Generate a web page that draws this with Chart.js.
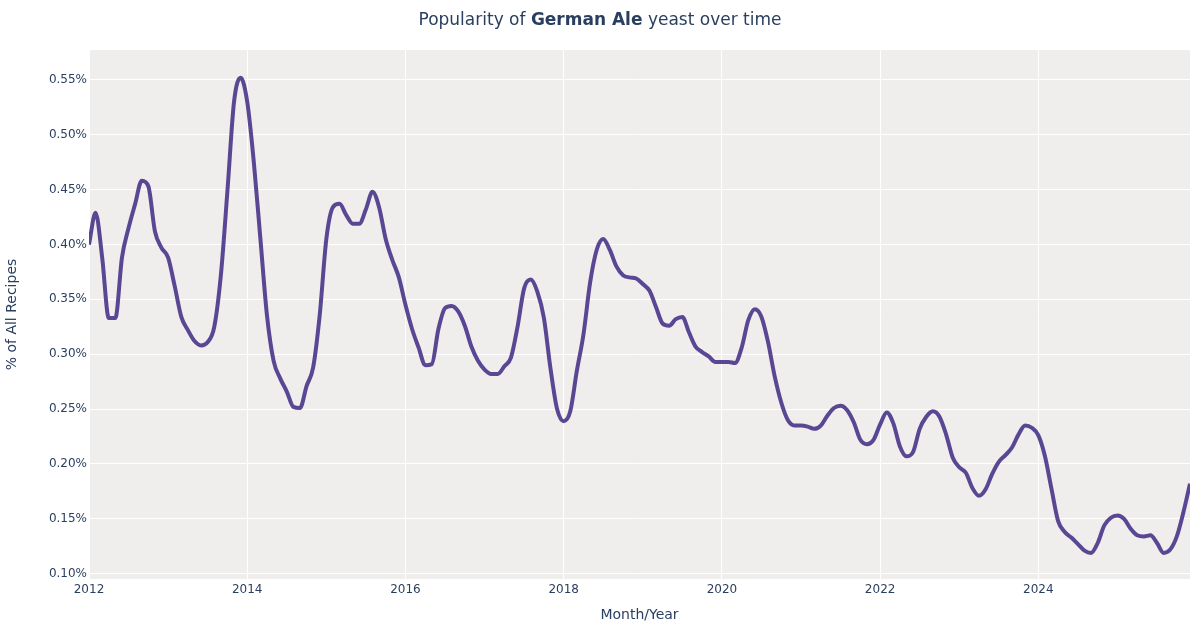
<!DOCTYPE html>
<html>
<head>
<meta charset="utf-8">
<script src="https://cdn.jsdelivr.net/npm/chart.js@4.4.1/dist/chart.umd.min.js"></script>
<style>
  html, body { margin: 0; padding: 0; background: #fff; }
  #wrap { position: relative; width: 1200px; height: 630px; }
  #title {
    position: absolute; left: 0; top: 9px; width: 1200px; text-align: center;
    font-family: 'DejaVu Sans', sans-serif; font-size: 17px; color: #2a3f5f;
  }
  canvas { position: absolute; left: 0; top: 0; }
</style>
</head>
<body>
<div id="wrap">
  <canvas id="yeastChart" width="1200" height="630"></canvas>
  <div id="title">Popularity of <b>German Ale</b> yeast over time</div>
</div>
<script>
// % of all recipes, one value per month (Jan..Dec)
const startYear = 2012
const y2012 = [0.400, 0.429, 0.388, 0.333, 0.333, 0.388, 0.415, 0.437, 0.458, 0.453, 0.412, 0.397]
const y2013 = [0.388, 0.362, 0.334, 0.322, 0.312, 0.308, 0.311, 0.325, 0.372, 0.449, 0.530, 0.552]
const y2014 = [0.530, 0.475, 0.405, 0.335, 0.294, 0.278, 0.266, 0.252, 0.251, 0.271, 0.288, 0.336]
const y2015 = [0.405, 0.434, 0.437, 0.427, 0.419, 0.419, 0.432, 0.448, 0.434, 0.405, 0.386, 0.370]
const y2016 = [0.345, 0.323, 0.306, 0.290, 0.291, 0.323, 0.342, 0.344, 0.339, 0.326, 0.307, 0.294]
const y2017 = [0.286, 0.282, 0.282, 0.289, 0.297, 0.325, 0.360, 0.368, 0.357, 0.333, 0.287, 0.250]
const y2018 = [0.239, 0.248, 0.285, 0.318, 0.365, 0.395, 0.405, 0.395, 0.380, 0.372, 0.370, 0.369]
const y2019 = [0.364, 0.358, 0.343, 0.328, 0.326, 0.332, 0.334, 0.320, 0.307, 0.302, 0.298, 0.293]
const y2020 = [0.293, 0.293, 0.292, 0.306, 0.331, 0.341, 0.334, 0.311, 0.280, 0.256, 0.240, 0.235]
const y2021 = [0.235, 0.234, 0.232, 0.235, 0.244, 0.251, 0.253, 0.249, 0.238, 0.222, 0.218, 0.222]
const y2022 = [0.236, 0.247, 0.237, 0.216, 0.207, 0.211, 0.232, 0.243, 0.248, 0.243, 0.227, 0.206]
const y2023 = [0.197, 0.192, 0.178, 0.171, 0.177, 0.191, 0.202, 0.208, 0.215, 0.227, 0.235, 0.233]
const y2024 = [0.226, 0.207, 0.177, 0.148, 0.138, 0.133, 0.127, 0.121, 0.119, 0.128, 0.144, 0.151]
const y2025 = [0.153, 0.150, 0.141, 0.135, 0.134, 0.135, 0.128, 0.119, 0.122, 0.134, 0.156, 0.182]

const years = [y2012, y2013, y2014, y2015, y2016, y2017, y2018, y2019, y2020, y2021, y2022, y2023, y2024, y2025]

const points = []
years.forEach((vals, yi) => {
    vals.forEach((v, mi) => {
        points.push({ x: startYear + yi + mi / 12, y: v })
    })
})

const textColor = '#2a3f5f'
const fontFamily = "'DejaVu Sans', sans-serif"

const plotBg = {
    id: 'plotBg',
    beforeDraw(chart) {
        const { ctx, chartArea } = chart
        ctx.save()
        ctx.fillStyle = '#efeeec'
        ctx.fillRect(chartArea.left, chartArea.top, chartArea.right - chartArea.left, chartArea.bottom - chartArea.top)
        ctx.restore()
    }
}

new Chart(document.getElementById('yeastChart'), {
    type: 'line',

    data: {
        datasets: [
            {
                label: 'German Ale',
                data: points,
                borderColor: '#5a4794',
                borderWidth: 4,
                pointRadius: 0,
                cubicInterpolationMode: 'monotone',
                fill: false
            }
        ]
    },

    options: {
        responsive: false,
        animation: false,
        devicePixelRatio: 1,

        layout: {
            padding: { top: 50, right: 10, left: 0, bottom: 0 }
        },

        plugins: {
            legend: { display: false },
            tooltip: { enabled: false }
        },

        scales: {
            x: {
                type: 'linear',
                min: 2012,
                max: 2012 + 167 / 12,
                border: { display: false },
                grid: { color: '#ffffff', lineWidth: 1, drawTicks: false },
                ticks: {
                    stepSize: 2,
                    includeBounds: false,
                    padding: 4,
                    color: textColor,
                    font: { family: fontFamily, size: 12 },
                    maxRotation: 0,
                    callback: v => String(v)
                },
                title: {
                    display: true,
                    text: 'Month/Year',
                    color: textColor,
                    font: { family: fontFamily, size: 14 },
                    padding: { top: 0, bottom: 6 }
                },
                afterFit(scale) { scale.height = 51 }
            },
            y: {
                min: 0.0952,
                max: 0.5772,
                border: { display: false },
                grid: { color: '#ffffff', lineWidth: 1, drawTicks: false },
                ticks: {
                    stepSize: 0.05,
                    includeBounds: false,
                    padding: 2,
                    color: textColor,
                    font: { family: fontFamily, size: 12 },
                    callback: v => v.toFixed(2) + '%'
                },
                title: {
                    display: true,
                    text: '% of All Recipes',
                    color: textColor,
                    font: { family: fontFamily, size: 14 },
                    padding: { top: 4, bottom: 0 }
                },
                afterFit(scale) { scale.width = 89 }
            }
        }
    },

    plugins: [plotBg]
})
</script>
</body>
</html>
